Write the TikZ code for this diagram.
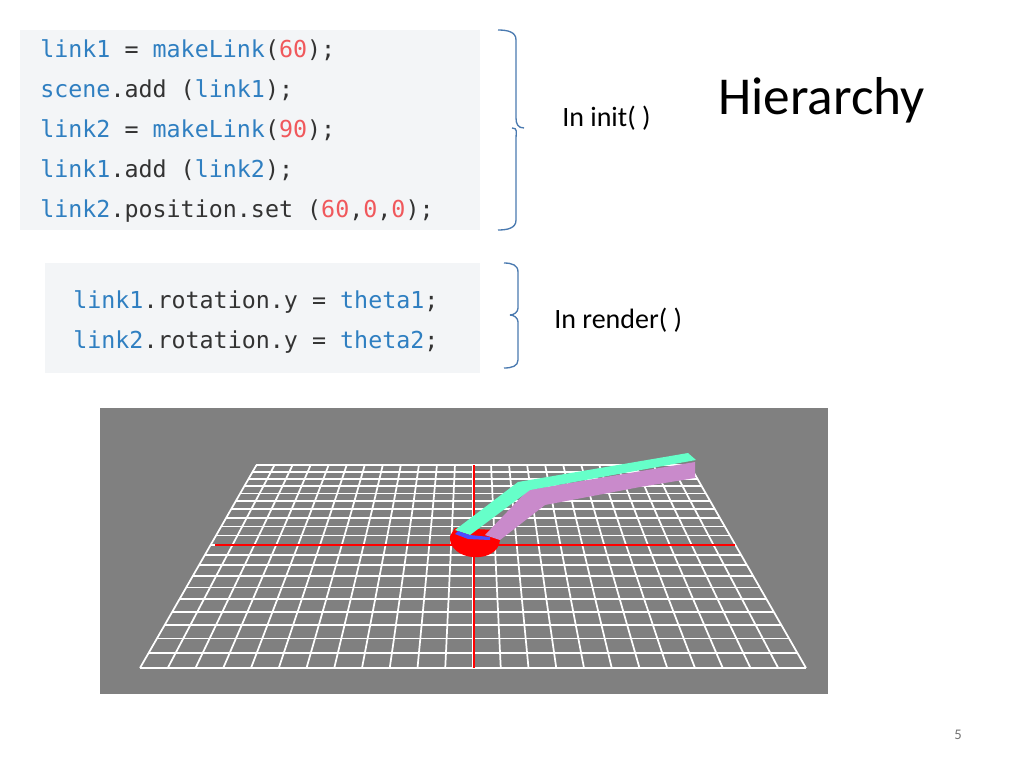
\documentclass[tikz,border=0pt]{standalone}
\usepackage{fontspec}
\setmainfont{Carlito}
\newfontfamily\codefont{DejaVu Sans Mono}
\definecolor{cb}{HTML}{2F7FC1}
\definecolor{cn}{HTML}{F0585C}
\definecolor{codebg}{HTML}{F3F5F7}
\definecolor{brc}{HTML}{4A7AB0}
\newcommand{\B}[1]{\textcolor{cb}{#1}}
\newcommand{\N}[1]{\textcolor{cn}{#1}}
\begin{document}
\begin{tikzpicture}[x=0.75pt,y=-0.75pt,
  code/.style={anchor=base west,inner sep=0,font=\codefont\fontsize{17.5}{20}\selectfont,text=black!80},
  brace/.style={draw=brc,line width=1pt},
  lbl/.style={anchor=west,inner sep=0,font=\fontsize{21}{24}\selectfont}]
\useasboundingbox (0,0) rectangle (1024,768);
\fill[white] (0,0) rectangle (1024,768);
% code boxes
\fill[codebg] (20,30) rectangle (480,230);
\node[code] (c1) at (40,57) {\B{link1} = \B{makeLink}(\N{60});};
\node[code] (c2) at (40,97) {\B{scene}.add (\B{link1});};
\node[code] (c3) at (40,137) {\B{link2} = \B{makeLink}(\N{90});};
\node[code] (c4) at (40,177) {\B{link1}.add (\B{link2});};
\node[code] (c5) at (40,217) {\B{link2}.position.set (\N{60},\N{0},\N{0});};
\fill[codebg] (45,263) rectangle (480,373);
\node[code] (d1) at (73,308) {\B{link1}.rotation.y = \B{theta1};};
\node[code] (d2) at (73,348) {\B{link2}.rotation.y = \B{theta2};};
% braces
\draw[brace] (498,30) .. controls (508,30) and (516,32) .. (516,40) -- (516,118) .. controls (516,124) and (518,128) .. (524,128);
\draw[brace] (498,230) .. controls (508,230) and (516,228) .. (516,220) -- (516,138) .. controls (516,132) and (518,128) .. (512,128);
\draw[brace] (504,263) .. controls (512,263) and (518,265) .. (518,272) -- (518,308) .. controls (518,312) and (514,315) .. (510,315);
\draw[brace] (504,368) .. controls (512,368) and (518,366) .. (518,360) -- (518,322) .. controls (518,318) and (514,315) .. (510,315);
\node[lbl] (t1) at (562,118) {In init( )};
\node[lbl] (t2) at (554,320) {In render( )};
\node[anchor=west,inner sep=0,font=\fontsize{40}{44}\selectfont] (h) at (718,100) {Hierarchy};
\node[anchor=center,font=\fontsize{11}{12}\selectfont,text=black!55] (p) at (958,735) {5};
% scene
\fill[black!50] (100,408) rectangle (828,694);
\begin{scope}[white,line width=1.3pt]
\foreach \i in {0,...,20}{
  \pgfmathsetmacro{\z}{1+0.538*\i/20}
  \pgfmathsetmacro{\yy}{88+580/\z}
  \pgfmathsetmacro{\hw}{333/\z}
  \draw (473-\hw,\yy) -- (473+\hw,\yy);
}
\foreach \j in {0,...,24}{
  \pgfmathsetmacro{\u}{-1+2*\j/24}
  \draw (473+333*\u,668) -- (473+216.5*\u,465);
}
\end{scope}
\draw[red,line width=1.3pt] (215,545) -- (735,545);
\draw[red,line width=1.3pt] (474,465) -- (474,668);
% links
\fill[red] (450,536) .. controls (448,562) and (498,565) .. (500,540) -- (495,530) -- (455,528) -- cycle;
\fill[white!70!magenta!80!blue] (528,490) -- (695,462) -- (695,478) -- (640,487) -- (545,505) -- (500,540) -- (485,535) -- cycle;
\fill[green!35!cyan!60!white] (455,530) -- (518,482) -- (688,453) -- (696,460) -- (530,490) -- (470,535) -- cycle;
\fill[blue!70] (458,531) -- (470,535) -- (490,537) -- (490,540) -- (468,539) -- (455,534) -- cycle;
\end{tikzpicture}
\end{document}
